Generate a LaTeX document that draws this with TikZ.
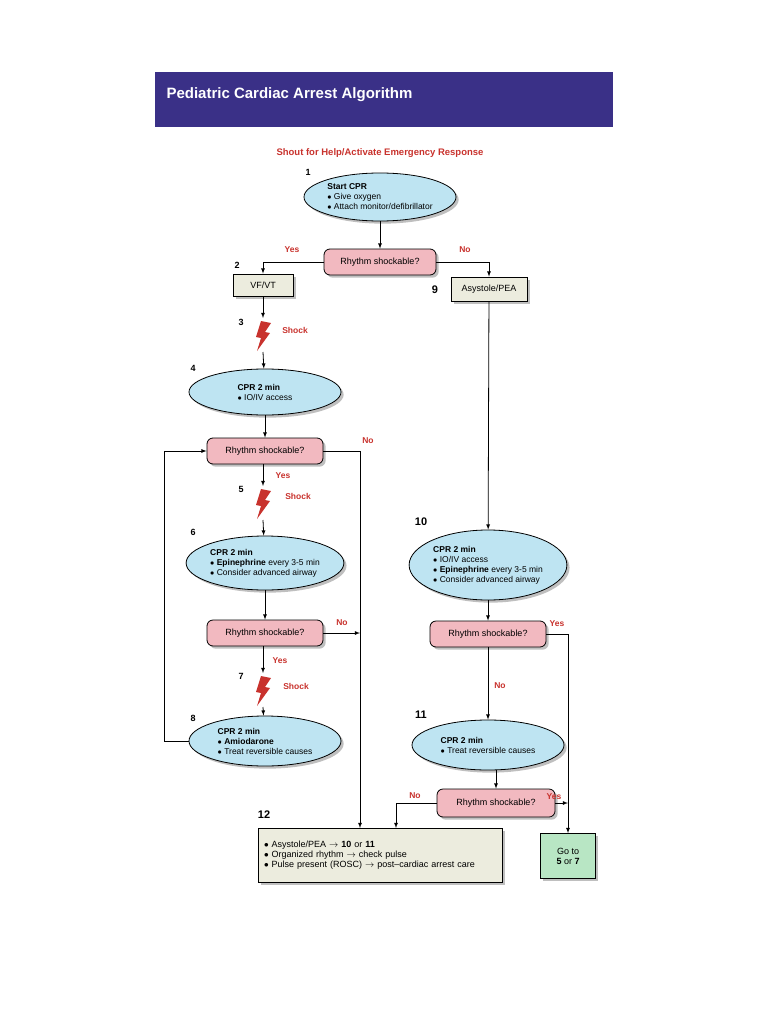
\documentclass[tikz,border=0pt]{standalone}
\usepackage{fontspec}
\setmainfont{Liberation Sans}
\usepackage{tikz}
\usetikzlibrary{shapes,arrows,positioning,calc,shadows}

\definecolor{banner}{RGB}{58,48,135}
\definecolor{alarm}{RGB}{200,50,45}
\definecolor{oval}{RGB}{190,228,242}
\definecolor{query}{RGB}{242,185,192}
\definecolor{plain}{RGB}{236,236,222}
\definecolor{goto}{RGB}{184,230,196}

\tikzset{
  cpr/.style={ellipse, draw, thick, fill=oval, drop shadow, minimum width=152pt, inner sep=1pt, font=\fontsize{8.5}{10}\selectfont, align=left},
  ask/.style={rectangle, rounded corners=6pt, draw, thick, fill=query, drop shadow, minimum width=116pt, minimum height=26pt, font=\fontsize{9}{10}\selectfont},
  box/.style={rectangle, draw, thick, fill=plain, drop shadow, font=\fontsize{9}{10}\selectfont},
  num/.style={font=\bfseries\fontsize{9}{10}\selectfont},
  ans/.style={text=alarm, font=\bfseries\fontsize{8.5}{10}\selectfont},
  flow/.style={thick, -latex},
  bolt/.pic={\fill[alarm] (-2,-14) -- (8,-12) -- (2,-3) -- (7,-2) -- (-6,16) -- (-2,3) -- (-7,2) -- cycle;}
}

\begin{document}
\begin{tikzpicture}[x=1pt,y=-1pt]
\useasboundingbox (0,0) rectangle (768,1024);
% banner
\fill[banner] (155,72) rectangle (613,127);
\node[anchor=west, text=white, font=\bfseries\fontsize{15}{18}\selectfont] (title) at (163,95) {Pediatric Cardiac Arrest Algorithm};
\node[text=alarm, font=\bfseries\fontsize{9.5}{11}\selectfont] (shout) at (380,153) {Shout for Help/Activate Emergency Response};

% left column
\node[cpr, minimum height=48pt] (s1) at (380,197) {\hfil\textbf{Start CPR}\hfil\\$\bullet$ Give oxygen\\$\bullet$ Attach monitor/defibrillator};
\node[ask, minimum width=112pt] (q1) at (380,262) {Rhythm shockable?};
\node[box, minimum width=60pt, minimum height=22pt] (vf) at (263,285) {VF/VT};
\node[box, minimum width=76pt, minimum height=24pt] (asy) at (489,289) {Asystole/PEA};
\pic at (263,335) {bolt};
\coordinate (b3t) at (263,318); \coordinate (b3b) at (263,352);
\node[cpr, minimum height=46pt] (s4) at (265,392) {\hfil\textbf{CPR 2 min}\hfil\\$\bullet$ IO/IV access};
\node[ask] (q2) at (265,451) {Rhythm shockable?};
\pic at (263,503) {bolt};
\coordinate (b5t) at (263,486); \coordinate (b5b) at (263,520);
\node[cpr, minimum height=54pt] (s6) at (265,563) {\hfil\textbf{CPR 2 min}\hfil\\$\bullet$ \textbf{Epinephrine} every 3-5 min\\$\bullet$ Consider advanced airway};
\node[ask] (q3) at (265,633) {Rhythm shockable?};
\pic at (263,690) {bolt};
\coordinate (b7t) at (263,673); \coordinate (b7b) at (263,707);
\node[cpr, minimum height=50pt] (s8) at (265,741) {\hfil\textbf{CPR 2 min}\hfil\\$\bullet$ \textbf{Amiodarone}\\$\bullet$ Treat reversible causes};

% right column
\node[cpr, minimum height=70pt, minimum width=150pt] (s10) at (488,565) {\hfil\textbf{CPR 2 min}\hfil\\$\bullet$ IO/IV access\\$\bullet$ \textbf{Epinephrine} every 3-5 min\\$\bullet$ Consider advanced airway};
\node[ask] (q4) at (488,634) {Rhythm shockable?};
\node[cpr, minimum height=50pt] (s11) at (488,745) {\hfil\textbf{CPR 2 min}\hfil\\$\bullet$ Treat reversible causes};
\node[ask, minimum width=118pt, minimum height=28pt] (q5) at (496,803) {Rhythm shockable?};
\node[box, minimum width=244pt, minimum height=54pt, align=left, text width=232pt] (s12) at (380,855) {$\bullet$ Asystole/PEA $\rightarrow$ \textbf{10} or \textbf{11}\\$\bullet$ Organized rhythm $\rightarrow$ check pulse\\$\bullet$ Pulse present (ROSC) $\rightarrow$ post–cardiac arrest care};
\node[box, fill=goto, minimum width=55pt, minimum height=45pt, align=center] (go) at (568,856) {Go to\\\textbf{5} or \textbf{7}};
\coordinate (in12a) at (360,828);
\coordinate (in12b) at (396,828);

% numbers
\node[num] (n1) at (308,172) {1};
\node[num] (n2) at (237,265) {2};
\node[num] (n3) at (241,322) {3};
\node[num] (n4) at (193,368) {4};
\node[num] (n5) at (241,489) {5};
\node[num] (n6) at (193,532) {6};
\node[num] (n7) at (241,676) {7};
\node[num] (n8) at (193,718) {8};
\node[num, font=\bfseries\fontsize{11}{12}\selectfont] (n9) at (435,290) {9};
\node[num, font=\bfseries\fontsize{11}{12}\selectfont] (n10) at (421,522) {10};
\node[num, font=\bfseries\fontsize{11}{12}\selectfont] (n11) at (421,715) {11};
\node[num, font=\bfseries\fontsize{11}{12}\selectfont] (n12) at (264,815) {12};

% shock labels and answers
\node[ans] (sh3) at (295,330) {Shock};
\node[ans] (sh5) at (298,496) {Shock};
\node[ans] (sh7) at (296,686) {Shock};
\node[ans] (y1) at (292,250) {Yes};
\node[ans] (no1) at (465,250) {No};
\node[ans] (no2) at (368,441) {No};
\node[ans] (y2) at (283,476) {Yes};
\node[ans] (no3) at (342,623) {No};
\node[ans] (y3) at (280,661) {Yes};
\node[ans] (y4) at (557,624) {Yes};
\node[ans] (no4) at (500,686) {No};
\node[ans] (y5) at (554,797) {Yes};
\node[ans] (no5) at (415,796) {No};

% connectors
\draw[flow] (s1) -- (q1);
\draw[flow] (q1.west) -| (vf.north);
\draw[flow] (q1.east) -| (asy.north);
\draw[flow] (vf) -- (b3t);
\draw[flow] (b3b) -- (s4);
\draw[flow] (s4) -- (q2);
\draw[flow] (q2.south -| b5t) -- (b5t);
\draw[flow] (b5b) -- (s6);
\draw[flow] (s6) -- (q3);
\draw[flow] (q3.south -| b7t) -- (b7t);
\draw[flow] (b7b) -- (s8);
\draw[flow] (s8.west) -- ++(-24,0) |- (q2.west);
\draw[flow] (q2.east) -| (in12a);
\draw[flow] (q3.east) -- (q3.east -| in12a);
\draw[flow] (asy) -- (s10);
\draw[flow] (s10) -- (q4);
\draw[flow] (q4) -- (s11);
\draw[flow] (s11.south -| q5.north) -- (q5.north);
\draw[flow] (q4.east) -| (go.north);
\draw[flow] (q5.east) -- (q5.east -| go.north);
\draw[flow] (q5.west) -| (in12b);
\end{tikzpicture}
\end{document}
